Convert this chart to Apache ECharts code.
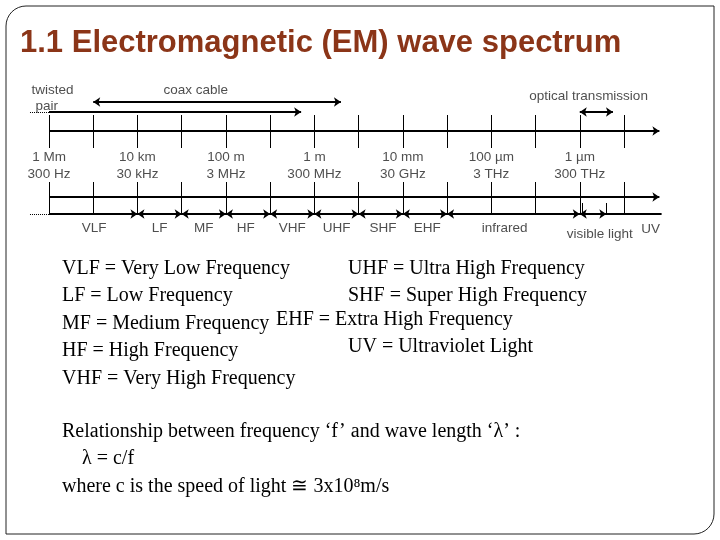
<!DOCTYPE html>
<html><head><meta charset="utf-8">
<script src="https://cdn.jsdelivr.net/npm/echarts@6/dist/echarts.min.js"></script>
<style>html,body{margin:0;padding:0;background:#fff}#c{width:720px;height:540px}</style>
</head><body><div id="c"></div>
<script>
// decade index along the spectrum (0 = 1 Mm / 300 Hz)
const decades = [0,1,2,3,4,5,6,7,8,9,10,11,12,13];
const wavelengthLabels = ['1 Mm','','10 km','','100 m','','1 m','','10 mm','','100 µm','','1 µm',''];
const frequencyLabels = ['300 Hz','','30 kHz','','3 MHz','','300 MHz','','30 GHz','','3 THz','','300 THz',''];
const bandNames = ['VLF','LF','MF','HF','VHF','UHF','SHF','EHF','infrared','visible light','UV'];
const bandStart = [0,2,3,4,5,6,7,8,9,12,12.6];
const bandEnd   = [2,3,4,5,6,7,8,9,12,12.6,13];
const bandLabelPos = [1.02,2.5,3.5,4.45,5.5,6.5,7.55,8.55,10.3,12.45,13.6];
const mediaNames = ['twisted pair','coax cable','optical transmission'];
const mediaStart = [0,1,12];
const mediaEnd = [5.7,6.6,12.75];
const axisEnd = 13.8;

// row levels (pixel rows of the slide, used as y values)
const ROW = {coax:102, twisted:112, upper:131, upTop:115, upBot:148, wl:157, fr:174, lowTop:182, mid:197, low:214, band:228};

const segs = [];
function seg(x1,y1,x2,y2,sym,extra){segs.push(Object.assign({coords:[[x1,y1],[x2,y2]],symbol:sym||['none','none']},extra||{}));}
seg(0,ROW.upper,axisEnd,ROW.upper,['none','arrow']);
seg(0,ROW.mid,axisEnd,ROW.mid,['none','arrow']);
seg(0,ROW.low,axisEnd+0.05,ROW.low);
seg(-0.43,ROW.low,0,ROW.low,null,{lineStyle:{type:'dotted',width:1}});
seg(-0.43,ROW.twisted,0,ROW.twisted,null,{lineStyle:{type:'dotted',width:1}});
decades.forEach(d=>{seg(d,ROW.upTop,d,ROW.upBot,null,{lineStyle:{width:1}});seg(d,ROW.lowTop,d,ROW.low,null,{lineStyle:{width:1}});});
// media arrows
seg(mediaStart[0],ROW.twisted,mediaEnd[0],ROW.twisted,['none','arrow']);
seg(mediaStart[1],ROW.coax,mediaEnd[1],ROW.coax,['arrow','arrow']);
seg(mediaStart[2],ROW.twisted,mediaEnd[2],ROW.twisted,['arrow','arrow']);
// band arrows
bandNames.forEach((b,i)=>{
  if(b==='UV') return;
  const sym = i===0?['none','arrow']:['arrow','arrow'];
  seg(bandStart[i],ROW.low,bandEnd[i],ROW.low,sym);
});
seg(12.05,203,12.05,ROW.low,null,{lineStyle:{width:1}}); seg(12.6,203,12.6,ROW.low,null,{lineStyle:{width:1}});

const txt=[];
decades.forEach((d,i)=>{ if(wavelengthLabels[i]){txt.push({value:[d,ROW.wl],name:wavelengthLabels[i]});txt.push({value:[d,ROW.fr],name:frequencyLabels[i]});}});
bandNames.forEach((b,i)=>txt.push({value:[bandLabelPos[i], b==='UV'?ROW.band+1:(b==='visible light'?ROW.band+6:ROW.band)],name:b}));
txt.push({value:[0.08,90],name:'twisted'});
txt.push({value:[-0.05,106],name:'pair'});
txt.push({value:[3.32,90],name:'coax cable'});
txt.push({value:[12.2,96],name:'optical transmission'});

const ch = echarts.init(document.getElementById('c'),null,{renderer:'canvas'});
const bodyFont='20px "Liberation Serif", serif';
ch.setOption({
  animation:false,
  grid:{left:49,right:96,top:0,bottom:0},
  xAxis:{type:'value',min:0,max:13,show:false},
  yAxis:{type:'value',min:0,max:540,inverse:true,show:false},
  graphic:[
    {type:'rect',shape:{x:6,y:6,width:708,height:528,r:[20,0,20,0]},style:{fill:'none',stroke:'#222',lineWidth:1}},
    {type:'text',left:20,top:28,style:{text:'1.1 Electromagnetic (EM) wave spectrum',font:'bold 31px "Liberation Sans", Arial',fill:'#8B3518'}},
    {type:'text',left:62,top:255,style:{text:'VLF = Very Low Frequency\nLF = Low Frequency\nMF = Medium Frequency\nHF = High Frequency\nVHF = Very High Frequency',font:bodyFont,fill:'#000',lineHeight:27.4}},
    {type:'text',left:348,top:255,style:{text:'UHF = Ultra High Frequency\nSHF = Super High Frequency',font:bodyFont,fill:'#000',lineHeight:27.4}},
    {type:'text',left:276,top:310,style:{text:'EHF = Extra High Frequency',font:bodyFont,fill:'#000'}},
    {type:'text',left:348,top:337,style:{text:'UV = Ultraviolet Light',font:bodyFont,fill:'#000'}},
    {type:'text',left:62,top:418,style:{text:'Relationship between frequency ‘f’ and wave length ‘λ’ :\n    λ = c/f\nwhere c is the speed of light ≅ 3x10⁸m/s',font:bodyFont,fill:'#000',lineHeight:27.4}}
  ],
  series:[
    {type:'lines',coordinateSystem:'cartesian2d',polyline:false,clip:false,symbolSize:7,
     lineStyle:{color:'#000',width:2,opacity:1},data:segs},
    {type:'scatter',symbolSize:0,clip:false,data:txt,
     label:{show:true,position:'inside',formatter:p=>p.name,color:'#222',fontSize:13.5,fontFamily:'"Liberation Sans", Arial'}}
  ]
});
</script></body></html>
